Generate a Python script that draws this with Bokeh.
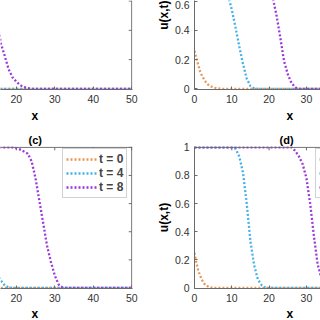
import math
from bokeh.plotting import figure
from bokeh.layouts import column, row
from bokeh.models import (Range1d, FixedTicker, NumeralTickFormatter, Title, Span,
                          Legend, LegendItem)
from bokeh.embed import file_html
from bokeh.resources import INLINE

# ---------------- data ----------------
x_ticks = [0, 10, 20, 30, 40, 50]
u_ticks = [0, 0.2, 0.4, 0.6, 0.8, 1.0]
legend_labels = ["t = 0", "t = 4", "t = 8"]
panel_titles = ["(a)", "(b)", "(c)", "(d)"]
x_label = "x"
u_label = "u(x,t)"

# panel (a)
a_t0_x = [0, 0.5, 1, 1.5, 2, 3, 4, 5, 6, 50]
a_t0_u = [0.25, 0.18, 0.13, 0.095, 0.07, 0.035, 0.016, 0.006, 0, 0]
a_t4_x = [0, 2, 4, 5, 6, 7, 8, 9, 10, 11, 12, 50]
a_t4_u = [1, 0.99, 0.93, 0.85, 0.7, 0.5, 0.32, 0.17, 0.07, 0.02, 0, 0]
a_t8_x = [0, 8, 10, 11, 12, 13, 14, 15, 16, 17, 18, 19, 20, 21, 22, 23, 24, 50]
a_t8_u = [1, 1, 0.98, 0.95, 0.89, 0.79, 0.64, 0.47, 0.31, 0.225, 0.135, 0.08,
          0.05, 0.026, 0.013, 0.005, 0, 0]

# panel (b)
b_t0_x = [0, 0.5, 1, 1.5, 2, 2.5, 3, 3.5, 4, 5, 6, 7, 8, 50]
b_t0_u = [0.26, 0.21, 0.165, 0.12, 0.09, 0.068, 0.048, 0.033, 0.022, 0.01,
          0.004, 0.001, 0, 0]
b_t4_x = [0, 4, 6, 7, 8, 9, 10, 11, 12, 13, 14, 15, 16, 17, 50]
b_t4_u = [1, 0.97, 0.88, 0.8, 0.73, 0.64, 0.54, 0.42, 0.29, 0.17, 0.07, 0.02,
          0.003, 0, 0]
b_t8_x = [0, 16, 18, 19, 20, 21, 22, 23, 24, 25, 26, 27, 28, 50]
b_t8_u = [1, 0.97, 0.9, 0.82, 0.72, 0.62, 0.5, 0.35, 0.19, 0.1, 0.04, 0.01, 0, 0]

# panel (c)
c_t0_x = [0, 0.5, 1, 1.5, 2, 3, 4, 5, 6, 50]
c_t0_u = [0.25, 0.18, 0.13, 0.095, 0.07, 0.035, 0.016, 0.006, 0, 0]
c_t4_x = [0, 6, 8, 10, 12, 13, 14, 15, 16, 17, 18, 19, 50]
c_t4_u = [1, 1, 0.95, 0.78, 0.48, 0.33, 0.2, 0.11, 0.053, 0.018, 0.004, 0, 0]
c_t8_x = [0, 19, 20, 21, 22, 23, 24, 25, 26, 27, 28, 29, 30, 31, 32, 33, 50]
c_t8_u = [1, 1, 0.995, 0.985, 0.97, 0.955, 0.9, 0.78, 0.62, 0.46, 0.3, 0.185,
          0.09, 0.025, 0.004, 0, 0]

# panel (d)
d_t0_x = [0, 0.5, 1, 1.5, 2, 2.5, 3, 4, 5, 50]
d_t0_u = [0.25, 0.18, 0.125, 0.088, 0.058, 0.035, 0.019, 0.006, 0, 0]
d_t4_x = [0, 10, 11, 12, 13, 14, 15, 16, 17, 18, 19, 20, 50]
d_t4_u = [1, 1, 0.99, 0.935, 0.82, 0.6, 0.33, 0.16, 0.06, 0.02, 0.003, 0, 0]
d_t8_x = [0, 26, 27, 28, 29, 30, 31, 32, 33, 34, 35, 36, 37, 50]
d_t8_u = [1, 1, 0.975, 0.935, 0.88, 0.78, 0.6, 0.37, 0.17, 0.07, 0.02, 0.004, 0, 0]

# ---------------- style ----------------
colors = ["#E6985A", "#46B1E8", "#9B3AD8"]
AXIS_COL = "#6b6b6b"
FONT = "Liberation Sans"
LEFT_W = 153          # width of left-column figures
RIGHT_W = 320 - LEFT_W


def style_axis(ax):
    ax.axis_line_color = AXIS_COL
    ax.axis_line_width = 1
    ax.major_tick_line_color = AXIS_COL
    ax.major_tick_in = 3
    ax.major_tick_out = 0
    ax.minor_tick_line_color = None
    ax.major_label_text_font = FONT
    ax.major_label_text_color = "#333333"
    ax.major_label_standoff = 5
    ax.major_label_text_font_size = "10.5px"


def make_panel(width, height, xr, yr, left_axis, borders, series, mirror):
    p = figure(width=width, height=height, x_range=Range1d(*xr), y_range=Range1d(*yr),
               output_backend="svg", toolbar_location=None,
               y_axis_location="left" if left_axis else None,
               min_border_left=borders[0], min_border_right=borders[1],
               min_border_top=borders[2], min_border_bottom=borders[3])
    p.outline_line_color = None
    p.grid.visible = False
    p.xaxis.ticker = FixedTicker(ticks=x_ticks)
    for ax in p.xaxis:
        style_axis(ax)
    if left_axis:
        p.yaxis.ticker = FixedTicker(ticks=u_ticks)
        p.yaxis.formatter = NumeralTickFormatter(format="0.[0]")
        for ax in p.yaxis:
            style_axis(ax)
    # box (mirror) sides with inward ticks
    if "right" in mirror:
        p.add_layout(Span(location=x_ticks[-1], dimension="height",
                          line_color=AXIS_COL, line_width=1))
        p.ray(x=[x_ticks[-1]] * len(u_ticks), y=u_ticks, length=3, length_units="screen",
              angle=math.pi, line_color=AXIS_COL, line_width=1)
    if "above" in mirror:
        p.add_layout(Span(location=u_ticks[-1], dimension="width",
                          line_color=AXIS_COL, line_width=1))
        p.ray(x=x_ticks, y=[u_ticks[-1]] * len(x_ticks), length=3, length_units="screen",
              angle=-math.pi / 2, line_color=AXIS_COL, line_width=1)
    rends = []
    for (xs, us), c in zip(series, colors):
        r = p.line(xs, us, line_color=c, line_width=2.3, line_dash="2 2",
                   line_cap="butt")
        rends.append(r)
    return p, rends


def add_title(p, text, side, align="left", offset=0, size="12px", standoff=2):
    t = Title(text=text, align=align, offset=offset, standoff=standoff,
              text_font=FONT, text_font_size=size, text_font_style="bold",
              text_color="#000000")
    p.add_layout(t, side)


def add_legend(p, rends, loc):
    lg = Legend(items=[LegendItem(label=l, renderers=[r]) for l, r in zip(legend_labels, rends)],
                location=loc)
    lg.border_line_color = "#a6a6a6"
    lg.border_line_width = 1
    lg.padding = 3
    lg.spacing = 0
    lg.margin = 0
    lg.glyph_width = 31
    lg.glyph_height = 14
    lg.label_height = 14
    lg.label_standoff = 2
    lg.label_text_font = FONT
    lg.label_text_font_size = "12px"
    lg.label_text_font_style = "bold"
    lg.background_fill_color = "white"
    p.add_layout(lg)


top_yr = (-0.004, 0.6035)
bot_yr = (-0.0035, 1.006)
left_xr = (15.9, 50.2)
right_xr = (0, 33.77)
rb_left = 191 - LEFT_W      # left border of right-column figures
lb_right = LEFT_W - 132     # right border of left-column figures

pa, ra = make_panel(LEFT_W, 130, left_xr, top_yr, False, (0, lb_right, 0, 41),
                    [(a_t0_x, a_t0_u), (a_t4_x, a_t4_u), (a_t8_x, a_t8_u)], ["right"])
add_title(pa, x_label, "below", offset=31)

pb, rb = make_panel(RIGHT_W, 130, right_xr, top_yr, True, (rb_left, 0, 0, 41),
                    [(b_t0_x, b_t0_u), (b_t4_x, b_t4_u), (b_t8_x, b_t8_u)], [])
add_title(pb, x_label, "below", offset=92)
add_title(pb, u_label, "left", align="right", offset=0)

pc, rc = make_panel(LEFT_W, 190, left_xr, bot_yr, False, (0, lb_right, 16, 29),
                    [(c_t0_x, c_t0_u), (c_t4_x, c_t4_u), (c_t8_x, c_t8_u)], ["right", "above"])
add_title(pc, panel_titles[2], "above", offset=28, size="11px")
add_title(pc, x_label, "below", offset=31, standoff=0)
add_legend(pc, rc, (62, 90))

pd, rd = make_panel(RIGHT_W, 190, right_xr, bot_yr, True, (rb_left, 0, 16, 29),
                    [(d_t0_x, d_t0_u), (d_t4_x, d_t4_u), (d_t8_x, d_t8_u)], ["above"])
add_title(pd, panel_titles[3], "above", offset=85, size="11px")
add_title(pd, x_label, "below", offset=92, standoff=0)
add_title(pd, u_label, "left", align="center")
add_legend(pd, rd, (121, 90))

layout = column(row(pa, pb, spacing=0), row(pc, pd, spacing=0), spacing=0)

with open("out.html", "w") as f:
    f.write(file_html(layout, INLINE))
